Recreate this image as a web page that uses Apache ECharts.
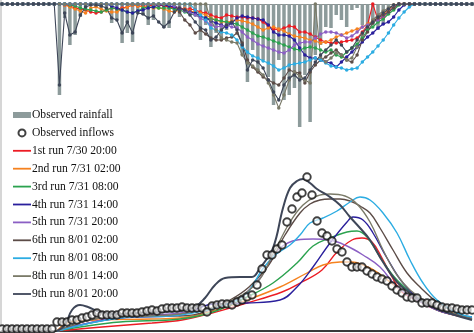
<!DOCTYPE html>
<html><head><meta charset="utf-8">
<script src="https://cdn.jsdelivr.net/npm/echarts@6/dist/echarts.min.js"></script>
<style>html,body{margin:0;padding:0;background:#fff}#c{width:474px;height:333px}</style>
</head><body><div id="c"></div>
<script>
// ---------- names, colours ----------
const runNames = ['1st run 7/30 20:00','2nd run 7/31 02:00','3rd run 7/31 08:00','4th run 7/31 14:00','5th run 7/31 20:00','6th run 8/01 02:00','7th run 8/01 08:00','8th run 8/01 14:00','9th run 8/01 20:00'];
const runColors = ['#ec1c24','#f5821f','#2ba24f','#2a1f9c','#8b5fc4','#5c4c47','#2cace2','#7a7a68','#3e4658'];
const rainColor = '#8d9b9b';

// ---------- top panel: hourly rainfall (mm), hours 0..90 ----------
const rainHours = Array.from({length:91},(_, i)=>String(i));
const rainObs = [0,0,0,0,0,0,0,0,0,0,0,
 45.5,7,20.5,15.5,6.5,2,1,2,2,4,
 9.5,8,19.5,14.5,19,4,5.5,10.5,8,2,
 12,12,4,6.5,4,5.5,3,18,10.5,21.5,
 14.5,18,13,8,13,25.5,39,23,34,28,
 36.5,50.5,28,48,45.5,42,61.5,35.5,59,25.5,
 20.5,11.5,12,5.5,8,11.5,3,2,10.5,13,
 10.5,13,10.5,5.5,3,1,0,0,0,0,
 0,0,0,0,0,0,0,0,0,0];
const rain1 = [0,0,0,0,0,0,0,0,0,0,0,
 0,0.5,1,2,2.5,3,4,4.5,4,3,
 2,2.5,2,1.5,0.5,1,1,1,0.5,0.5,
 1,1.5,2,2,2.5,2.5,3,4,4.5,5.5,
 6.5,7,5.5,6,6.5,6.5,7,7,7.5,9,
 11,12.5,13,12,11,11.5,14,14,15,16.5,
 18,19,19.5,19.5,19,18.5,18,17,14,10.5,
 0,8,6.5,4,1.5,0,0,0,0,0,
 0,0,0,0,0,0,0,0,0,0];
const rain2 = [0,0,0,0,0,0,0,0,0,0,0,
 0,0.5,1.5,2.5,3.5,4.5,2,1.5,2.5,3.5,
 4,4,2.5,1.5,0.5,1,1.5,1.5,2,2,
 2.5,3.5,4,3,2.5,3.5,4,4.5,5.5,7,
 8,9,9,8.5,8,8.5,9,10,11.5,13,
 12,11.5,12.5,13.5,15,16,16.5,17,18,18.5,
 19.5,19,18,16.5,15.5,14.5,13.5,12.5,11.5,10,
 8.5,7,5,3,0.5,0,0,0,0,0,
 0,0,0,0,0,0,0,0,0,0];
const rain3 = [0,0,0,0,0,0,0,0,0,0,0,
 0,0,0.5,1,2,2.5,3,3.5,4,3,
 2,2.5,3,4,4.5,3.5,2,1.5,1.5,2,
 2,2,2.5,3,4,5,5.5,6.5,7,7.5,
 8,8.5,9,9.5,10,11.5,13,14.5,16,16.5,
 17.5,18.5,19.5,20.5,21.5,22.5,23,22,21.5,22,
 23,24,23,25.5,26.5,24,22,20,17,13,
 11.5,9,7.5,5,3,0.5,0,0,0,0,
 0,0,0,0,0,0,0,0,0,0];
const rain4 = [0,0,0,0,0,0,0,0,0,0,0,
 0,0,0,0,0,0,0,0,0,0,
 1,2,3,4,4.5,3.5,3,2,1.5,0.5,
 0.5,1,1.5,2.5,3,4,4.5,6,7,8.5,
 9.5,10.5,11.5,9.5,7,6,6.5,7,7.5,8,
 10.5,14,15.5,15.5,16,18,22,25.5,27,27,
 28,29,29.5,31.5,29,26.5,24,21.5,19,16.5,
 14.5,12,10,9,6.5,3,0.5,0,0,0,
 0,0,0,0,0,0,0,0,0,0];
const rain5 = [0,0,0,0,0,0,0,0,0,0,0,
 0,0,0,0,0,0,0,0,0,0,
 0,0,0,0,0,0,0,0,0,0,
 0,0,1,2,3.5,4.5,5.5,7,8.5,10.5,
 11.5,11,10.5,11.5,12,14,16.5,18,20,21,
 22,23,24,24.5,23,20.5,19.5,19,19,17,
 15,14,14,14.5,15.5,17,16,14,11.5,10.5,
 9,8,6,4,1.5,0,0,0,0,0,
 0,0,0,0,0,0,0,0,0,0];
const rain6 = [0,0,0,0,0,0,0,0,0,0,0,
 0,0,0,0,0,0,0,0,0,0,
 0,0,0,0,0,0,0,0,0,0,
 0,0,0,4,8,10.5,14.5,13,15,17,
 18,18,17,16.5,14.5,19.5,28,31.5,34,36.5,
 38,39.5,40.5,37,33,34,34.5,39.5,34,30.5,
 28,26.5,24.5,23,25.5,28,29,25.5,18,14,
 9.5,7,5.5,4,2,0,0,0,0,0,
 0,0,0,0,0,0,0,0,0,0];
const rain7 = [0,0,0,0,0,0,0,0,0,0,0,
 0,0,0,0,0,0,0,0,0,0,
 0,0,0,0,0,0,0,0,0,0,
 0,0,0,0,0,0,3,5.5,8,12,
 13,14,14.5,15.5,18,21.5,24,26,27,28.5,
 29.5,31,33,32,30.5,30,29.5,29,28,27,
 28,29.5,31,31.5,32,33,32.5,32,29,26.5,
 24,21,18,14.5,10.5,7,4,1.5,0,0,
 0,0,0,0,0,0,0,0,0,0];
const rain8 = [0,0,0,0,0,0,0,0,0,0,0,
 0,0,0,0,0,0,0,0,0,0,
 0,0,0,0,0,0,0,0,0,0,
 0,0,0,0,0,0,0,0,0,8,
 13,17,18,19,19.5,25.5,29.5,31,33,35.5,
 39.5,45.5,52,45.5,38,34,36,38,39.5,0,
 26.5,29,27,24.5,25.5,28,27,21.5,15.5,11.5,
 8,5.5,3.5,2,0.5,0,0,0,0,0,
 0,0,0,0,0,0,0,0,0,0];
const rain9 = [0,0,0,0,0,0,0,0,0,0,0,
 40.5,4.5,15.5,14,5.5,1.5,0.5,0.5,1,2,
 7,8,14.5,9,14.5,4.5,5,7,6,9,
 11.5,9,4,2,3,5.5,9,12,13,18,
 16.5,13,10.5,9,13,20.5,33,28,29,32,
 38,44,48,40.5,37,35.5,38,37,33,29,
 25.5,23,20.5,18,20.5,24,22,18,14.5,11.5,
 9,6.5,4.5,2.5,0.5,0,0,0,0,0,
 0,0,0,0,0,0,0,0,0,0];
const rainRuns = [rain1,rain2,rain3,rain4,rain5,rain6,rain7,rain8,rain9];

// ---------- bottom panel: inflow (m3/s), hours 0..94 ----------
const obsInflow = [20,20,20,20,20,20,20,20,20,20,20,
 90,90,90,110,110,130,140,160,180,160,
 160,160,160,180,180,180,180,190,200,210,
 200,220,230,230,230,240,230,230,230,230,
 190,250,260,270,270,260,290,310,340,360,
 460,620,760,760,820,860,1090,1220,1340,1380,
 1540,1360,1100,980,950,900,820,790,690,640,
 640,640,600,570,540,520,500,450,410,380,
 340,330,330,280,280,280,260,240,230,230,
 220,210,210,210];
// forecast hydrographs: [hour, inflow]
const flow1 = [[11,0],[20,40],[30,80],[36,110],[42,180],[49,280],[56,390],[60,490],[64,610],[67,790],[70,910],[72,930],[74,890],[76,730],[78,540],[80,390],[83,310],[87,210],[92,140],[94,130]];
const flow2 = [[11,0],[13.6,90],[19.6,110],[29.6,120],[35.6,130],[42.2,200],[49,310],[55.6,440],[61,580],[64.2,660],[67.6,690],[70,690],[72.2,660],[75,590],[77.6,490],[80.2,390],[83,320],[87,230],[92.2,150],[94,130]];
const flow3 = [[11,0],[15.6,40],[23.6,90],[35.6,120],[42.2,190],[49,340],[54.2,480],[59,680],[62.2,850],[65.6,930],[69,990],[71,1000],[73,940],[75.6,740],[79,510],[83,340],[87,210],[94,130]];
const flow4 = [[11,0],[15.6,60],[23.6,130],[35.6,160],[42.2,270],[49,280],[55.6,310],[59,440],[62.2,640],[65.6,880],[69,1090],[70.2,1140],[72.2,1110],[74.2,980],[77,730],[80.2,480],[84.2,290],[88.2,190],[94,140]];
const flow5 = [[11,0],[15.6,60],[23.6,140],[35.6,180],[45.6,280],[51,490],[53.6,690],[55.6,830],[59,910],[62.2,920],[65.6,910],[69,850],[72.2,760],[75.6,640],[79,440],[83,310],[87.6,200],[94,130]];
const flow6 = [[11,0],[19.6,130],[29.6,160],[35.6,150],[45.6,310],[52.6,610],[56.6,960],[59.6,1180],[61.6,1270],[63.6,1310],[65.6,1320],[67.6,1320],[69.6,1300],[71.6,1250],[73.6,1180],[75.6,1030],[78.2,810],[81,580],[83.6,440],[87,290],[91,180],[94,120]];
const flow7 = [[11,0],[23.6,130],[35.6,160],[45.6,280],[49,380],[52,610],[54.6,760],[57.6,860],[59.6,960],[61.6,1080],[64.2,1130],[67,1200],[69.6,1290],[71.6,1340],[73.6,1310],[76.2,1180],[79,980],[81.6,710],[84.2,480],[87,310],[91,180],[94,140]];
const flow8 = [[11,0],[19.6,130],[29.6,150],[35.6,170],[43.6,260],[50.6,460],[54.6,810],[57.6,1090],[60.2,1260],[63,1350],[65.6,1370],[68.6,1350],[71,1270],[73.6,1090],[76.2,810],[79,560],[81.6,410],[85.6,270],[90.6,170],[94,120]];
const flow9 = [[11,0],[12.6,60],[14,210],[15.6,260],[17.2,240],[19.6,190],[22.6,170],[27.6,180],[31.6,190],[35.6,200],[38.6,240],[40.6,330],[42.6,460],[44.6,530],[47.6,540],[50,540],[51.6,630],[54.2,830],[56.2,1230],[57.6,1430],[59,1500],[60.2,1520],[61.6,1480],[63,1420],[65,1360],[67.6,1260],[69.6,1140],[71.6,1030],[73.6,910],[76.2,690],[79,490],[81.6,380],[85.6,250],[94,110]];
const flowRuns = [flow1,flow2,flow3,flow4,flow5,flow6,flow7,flow8,flow9];

// ---------- build series ----------
const series = [];
flowRuns.forEach((d,k)=>{
  series.push({type:'line',name:runNames[k],xAxisIndex:1,yAxisIndex:1,data:d,smooth:0.4,symbol:'none',
    lineStyle:{color:runColors[k],width:k===8?2:1.4},itemStyle:{color:runColors[k]},z:2});
});
series.push({type:'scatter',name:'Observed inflows',xAxisIndex:1,yAxisIndex:1,
  data:obsInflow.map((v,i)=>[i,v]),symbol:'circle',symbolSize:7.5,
  itemStyle:{color:'rgba(255,255,255,0.8)',borderColor:'#111',borderWidth:1.9},z:5});
series.push({type:'bar',name:'Observed rainfall',xAxisIndex:0,yAxisIndex:0,data:rainObs,barWidth:3.5,
  itemStyle:{color:rainColor},z:1});
rainRuns.forEach((d,k)=>{
  series.push({type:'line',name:runNames[k],xAxisIndex:0,yAxisIndex:0,data:d,symbol:'circle',symbolSize:3.5,
    showAllSymbol:true,lineStyle:{color:runColors[k],width:1.1},itemStyle:{color:runColors[k]},z:3});
});

const lineIcon = 'path://M0,0H36V3.6H0Z';
const chart = echarts.init(document.getElementById('c'),null,{renderer:'canvas'});
chart.setOption({
  animation:false,
  backgroundColor:'#ffffff',
  textStyle:{fontFamily:'Liberation Serif'},
  grid:[
    {left:2,right:2,top:4,height:126},
    {left:2,right:2,top:171,bottom:2},
    {left:1,width:1,top:0,bottom:0}
  ],
  xAxis:[
    {type:'category',gridIndex:0,data:rainHours,boundaryGap:false,position:'top',
      axisLine:{lineStyle:{color:'#8e8e8e',width:1}},axisTick:{show:false},axisLabel:{show:false},splitLine:{show:false}},
    {type:'value',gridIndex:1,min:0,max:94,
      axisLine:{show:true,onZero:false,lineStyle:{color:'#3a3a3a',width:2}},axisTick:{show:false},axisLabel:{show:false},splitLine:{show:false}},
    {type:'value',gridIndex:2,show:false,min:0,max:1}
  ],
  yAxis:[
    {type:'value',gridIndex:0,inverse:true,min:0,max:63,show:false},
    {type:'value',gridIndex:1,min:0,max:1600,show:false},
    {type:'value',gridIndex:2,min:0,max:1,axisLine:{show:true,lineStyle:{color:'#d6d6d6',width:2}},
      axisTick:{show:false},axisLabel:{show:false},splitLine:{show:false}}
  ],
  legend:{
    orient:'vertical',left:13,top:108,padding:0,itemWidth:18,itemHeight:7,itemGap:3.9,symbolKeepAspect:true,
    textStyle:{fontFamily:'Liberation Serif',fontSize:11.6,color:'#111',lineHeight:14,padding:[0,0,0,-4]},
    data:[{name:'Observed rainfall',icon:'path://M0,0H18V6H0Z'},{name:'Observed inflows',icon:'circle'}]
      .concat(runNames.map(n=>({name:n,icon:lineIcon})))
  },
  series:series
});
</script>
</body></html>
